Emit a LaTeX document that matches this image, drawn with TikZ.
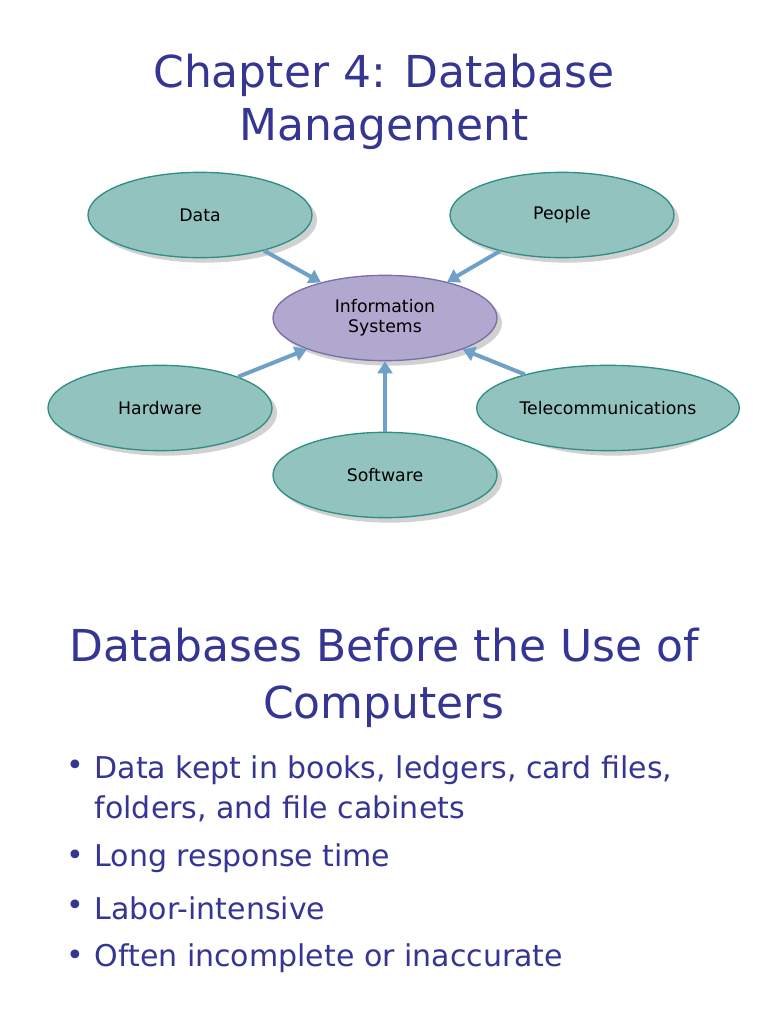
\documentclass[tikz,border=0pt]{standalone}
\usepackage{fontspec}
\setmainfont{DejaVu Sans}
\usetikzlibrary{shapes.geometric,arrows.meta}
\definecolor{ttl}{HTML}{353594}
\definecolor{teal1}{HTML}{93C3BE}
\definecolor{teal2}{HTML}{2E8F84}
\definecolor{purp1}{HTML}{B1A8CF}
\definecolor{purp2}{HTML}{7B6FA6}
\definecolor{arr}{HTML}{6FA0C8}
\tikzset{
 bub/.style={ellipse, minimum width=168pt, minimum height=64pt, fill=teal1, draw=teal2, line width=1pt, font=\fontsize{13}{15}\selectfont, align=center},
 cen/.style={bub, fill=purp1, draw=purp2},
 con/.style={arr, line width=3pt, -{Triangle[length=9pt,width=11pt]}},
 shd/.style={ellipse, minimum width=168pt, minimum height=64pt, fill=black!18}
}
\begin{document}
\begin{tikzpicture}[x=0.75pt,y=-0.75pt]
\useasboundingbox (0,0) rectangle (768,1024);
\node[ttl, font=\fontsize{33}{40}\selectfont, align=center] (t1) at (384,102) {Chapter 4: Database\\Management};
% shadows
\foreach \px/\py [count=\i] in {205/220,567/220,390/323,165/413,613/413,390/480}
  {\node[shd] (s\i) at (\px,\py) {};}
\node[bub] (data) at (200,215) {Data};
\node[bub] (people) at (562,215) {People};
\node[cen] (is) at (385,318) {Information\\Systems};
\node[bub] (hw) at (160,408) {Hardware};
\node[bub] (tel) at (608,408) {Telecommunications};
\node[bub] (sw) at (385,475) {Software};
\draw[con] (data) -- (is);
\draw[con] (people) -- (is);
\draw[con] (hw) -- (is);
\draw[con] (tel) -- (is);
\draw[con] (sw) -- (is);
\node[ttl, font=\fontsize{33}{43}\selectfont, align=center] (t2) at (384,678) {Databases Before the Use of\\Computers};
\begin{scope}[ttl, font=\fontsize{22.5}{30}\selectfont]
\node[anchor=west] (b1) at (62,768) {•};
\node[anchor=north west, align=left] (x1) at (90,751) {Data kept in books, ledgers, card files,\\folders, and file cabinets};
\node[anchor=west] (b2) at (62,858) {•};
\node[anchor=west] (x2) at (90,858) {Long response time};
\node[anchor=west] (b3) at (62,908) {•};
\node[anchor=west] (x3) at (90,908) {Labor-intensive};
\node[anchor=west] (b4) at (62,958) {•};
\node[anchor=west] (x4) at (90,958) {Often incomplete or inaccurate};
\end{scope}
\end{tikzpicture}
\end{document}
